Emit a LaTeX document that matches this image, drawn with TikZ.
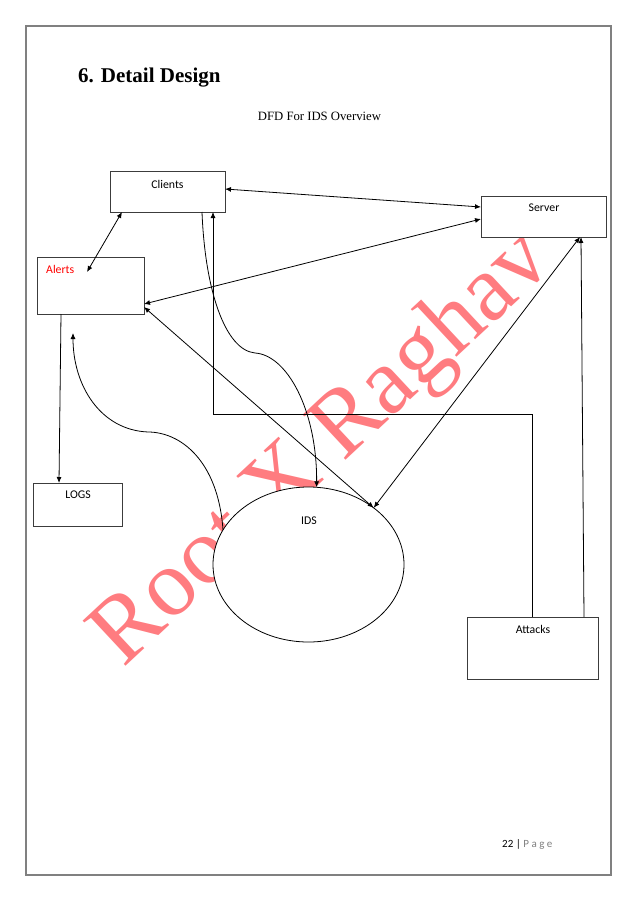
\documentclass[tikz,border=0pt]{standalone}
\usepackage{fontspec}
\setmainfont{Liberation Serif}
\newfontfamily\calibri{Carlito}
\usetikzlibrary{arrows.meta,shapes.geometric}
\definecolor{wmred}{RGB}{255,124,128}
\definecolor{pagegray}{RGB}{128,128,128}
\definecolor{boxline}{RGB}{60,60,60}
\begin{document}
\begin{tikzpicture}[x=1pt,y=-1pt,
  box/.style={draw=boxline, fill=white, line width=0.9pt, inner sep=0pt, outer sep=0pt, anchor=north west},
  lbl/.style={font=\calibri\fontsize{11.8}{14}\selectfont, inner sep=0pt},
  conn/.style={line width=0.8pt, -{Latex[length=6pt,width=5pt]}},
  bi/.style={line width=0.8pt, {Latex[length=6pt,width=5pt]}-{Latex[length=6pt,width=5pt]}}
]
\useasboundingbox (0,0) rectangle (638,902);
\fill[white] (0,0) rectangle (638,902);
% watermark
\node[rotate=43, text=wmred, font=\fontsize{95}{95}\selectfont, inner sep=0pt] (wm) at (324,450) {Root X Raghav};
% page frame
\draw[pagegray, line width=2pt] (26,26) rectangle (611,875);
% headings
\node[anchor=base west, font=\bfseries\fontsize{21}{24}\selectfont, inner sep=0pt] (title) at (78,82) {6. Detail Design};
\node[anchor=base, font=\fontsize{12.7}{15}\selectfont, inner sep=0pt] (sub) at (319.5,120) {DFD For IDS Overview};
% boxes
\node[box, minimum width=115pt, minimum height=41pt] (clients) at (110,171) {};
\node[lbl] (clientsl) at (167.5,184) {Clients};
\node[box, minimum width=125pt, minimum height=41pt] (server) at (481,196) {};
\node[lbl] (serverl) at (544,208) {Server};
\node[box, minimum width=107pt, minimum height=57pt] (alerts) at (37,257) {};
\node[lbl, anchor=west, text={rgb,255:red,255;green,0;blue,0}] (alertsl) at (46,269.5) {Alerts};
\node[box, minimum width=89pt, minimum height=43pt] (logs) at (33,483) {};
\node[lbl] (logsl) at (78,495) {LOGS};
\node[draw=black, fill=white, line width=0.8pt, ellipse, minimum width=191pt, minimum height=155pt, inner sep=0pt, outer sep=0pt] (ids) at (308.5,564.5) {};
\node[lbl] (idsl) at (309,521) {IDS};
\node[box, minimum width=131pt, minimum height=62pt] (attacks) at (467,617) {};
\node[lbl] (attacksl) at (533,629) {Attacks};
% connectors
\draw[bi] ([yshift=2.5pt]clients.east) -- ([yshift=-11pt]server.north west);
\draw[bi] ([yshift=-23pt]server.north west) -- ([yshift=10pt]alerts.south east);
\draw[bi] ([xshift=12pt]clients.south west) -- ([shift={(50pt,-15pt)}]alerts.north west);
\draw[conn] ([xshift=24pt]alerts.south west) -- ([xshift=26pt]logs.north west);
\draw[conn] ([xshift=92pt]clients.south west) .. controls (205,290) and (225,350) .. (255,353)
  .. controls (287,355) and (317,410) .. (ids.84);
\draw[conn] (ids.158) .. controls (218,460) and (180,432) .. (148,432)
  .. controls (100,430) and (73,385) .. ([shift={(36pt,-19pt)}]alerts.south west);
\draw[conn] ([xshift=65pt]attacks.north west) -- ++(0,-203) -| ([xshift=103pt]clients.south west);
\draw[conn] ([xshift=117pt]attacks.north west) -- ([xshift=100pt]server.south west);
\draw[bi] ([xshift=99pt]server.south west) -- (ids.41);
\draw[bi] ([yshift=7pt]alerts.south east) -- (ids.41);
% page number
\node[anchor=base west, font=\calibri\fontsize{11}{13}\selectfont, inner sep=0pt] (pnum) at (502,847) {22 | \textcolor{pagegray}{P a g e}};
\end{tikzpicture}
\end{document}
